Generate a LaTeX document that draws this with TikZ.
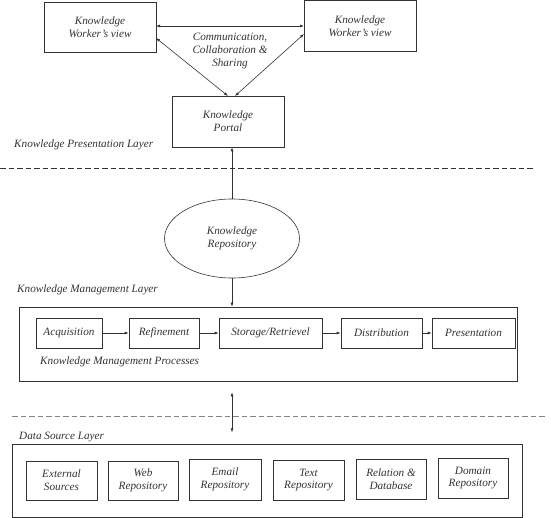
\documentclass[tikz,border=0pt]{standalone}
\usepackage{fontspec}
\setmainfont{Liberation Serif}
\usetikzlibrary{arrows.meta,shapes.geometric}
\definecolor{ink}{HTML}{333333}
\begin{document}
\begin{tikzpicture}[x=1pt,y=-1pt,
  every node/.style={font=\itshape\fontsize{11.2}{12.8}\selectfont, text=ink},
  box/.style={draw=ink, line width=0.6pt, align=center, inner sep=0pt},
  conn/.style={draw=ink, line width=0.6pt, -{Latex[length=4pt,width=3pt]}},
  dconn/.style={draw=ink, line width=0.6pt, {Latex[length=4pt,width=3pt]}-{Latex[length=4pt,width=3pt]}},
  lbl/.style={anchor=west, inner sep=0pt}]
\useasboundingbox (0,0) rectangle (551,518);
% top
\node[box, minimum width=112pt, minimum height=50pt] (kw1) at (100,27) {Knowledge\\Worker's view};
\node[box, minimum width=112pt, minimum height=51pt] (kw2) at (360,26) {Knowledge\\Worker's view};
\node[box, minimum width=112pt, minimum height=51pt] (portal) at (228,121.5) {Knowledge\\Portal};
\node[align=center] (ccs) at (230,51) {Communication,\\Collaboration \&\\Sharing};
\coordinate (kw1r) at (156,26);
\coordinate (kw2l) at (304,26);
\draw[dconn] (kw1r) -- (kw2l);
\coordinate (kw1d) at (156,38);
\coordinate (kw2d) at (304,34);
\coordinate (pa) at (228,96);
\coordinate (pb) at (235,96);
\draw[dconn] (kw1d) -- (pa);
\draw[dconn] (kw2d) -- (pb);
\node[lbl] (kpl) at (14,145) {Knowledge Presentation Layer};
\coordinate (d1a) at (0,168);
\coordinate (d1b) at (535,168);
\draw[ink, line width=0.6pt, dash pattern=on 5.5pt off 3pt] (d1a) -- (d1b);
% repository
\node[ellipse, draw=ink, line width=0.6pt, minimum width=135pt, minimum height=79pt, align=center, inner sep=0pt] (repo) at (232,238.5) {Knowledge\\Repository};
\draw[conn] (repo.north) -- (portal.south -| repo.north);
\node[lbl] (kml) at (17,290) {Knowledge Management Layer};
\node[box, minimum width=498pt, minimum height=74pt] (km) at (268,344) {};
\draw[conn] (repo.south) -- (km.north -| repo.south);
\node[box, minimum width=66pt, minimum height=30pt] (acq) at (69,333) {Acquisition};
\node[box, minimum width=70pt, minimum height=30pt] (ref) at (164,333) {Refinement};
\node[box, minimum width=103pt, minimum height=30pt] (sto) at (270.5,333) {Storage/Retrievel};
\node[box, minimum width=81pt, minimum height=30pt] (dis) at (381.5,333) {Distribution};
\node[box, minimum width=83pt, minimum height=30pt] (pre) at (473.5,333) {Presentation};
\draw[conn] (acq) -- (ref);
\draw[conn] (ref) -- (sto);
\draw[conn] (sto) -- (dis);
\draw[conn] (dis) -- (pre);
\node[lbl] (kmp) at (40,362) {Knowledge Management Processes};
% data source
\coordinate (d2a) at (12,416);
\coordinate (d2b) at (546,416);
\draw[ink!60, line width=0.6pt, dash pattern=on 5.5pt off 3pt] (d2a) -- (d2b);
\node[lbl] (dsl) at (19,437) {Data Source Layer};
\node[box, minimum width=510pt, minimum height=73pt] (ds) at (267,480.5) {};
\draw[dconn] (km.south -| repo.south) ++(0,11) coordinate (ua) (ua) -- ++(0,40) coordinate (ub);
\node[box, minimum width=71pt, minimum height=39pt] (ext) at (61.5,480.5) {External\\Sources};
\node[box, minimum width=70pt, minimum height=39pt] (web) at (143,480.5) {Web\\Repository};
\node[box, minimum width=72pt, minimum height=41pt] (eml) at (225,479.5) {Email\\Repository};
\node[box, minimum width=71pt, minimum height=40pt] (txt) at (308.5,480) {Text\\Repository};
\node[box, minimum width=70pt, minimum height=40pt] (rel) at (391,479) {Relation \&\\Database};
\node[box, minimum width=70pt, minimum height=40pt] (dom) at (473,478) {Domain\\Repository};
\end{tikzpicture}
\end{document}
